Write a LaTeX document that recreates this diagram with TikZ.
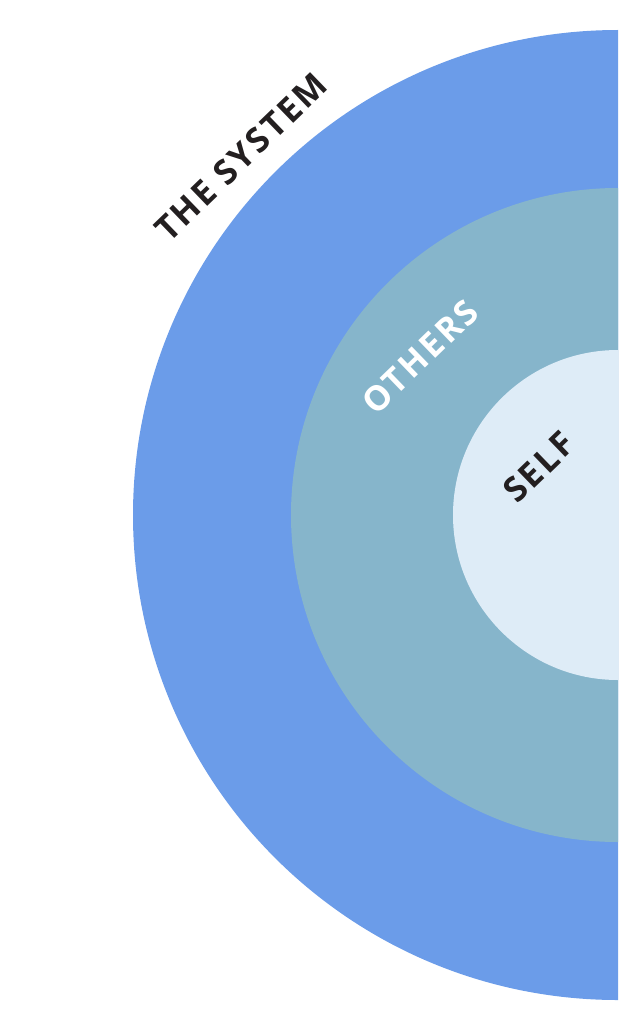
\documentclass[tikz,border=0pt]{standalone}
\usepackage{fontspec}
\newfontfamily\ringfont{Open Sans}[LetterSpace=7]
\usetikzlibrary{positioning}
\definecolor{csystem}{HTML}{6B9CE9}
\definecolor{cothers}{HTML}{86B5CB}
\definecolor{cself}{HTML}{DEECF7}
\definecolor{cink}{HTML}{231F20}
\tikzset{
  every picture/.style={x=0.02cm, y=-0.02cm},
  ring/.style={font=\ringfont\bfseries\fontsize{19.5}{22}\selectfont, rotate=44, inner sep=0pt},
}

\begin{document}
\begin{tikzpicture}
  \useasboundingbox (0,0) rectangle (621,1024);
  \coordinate (c) at (618,515);
  % half discs, cut on the right
  \begin{scope}
    \clip (0,0) rectangle (618,1024);
    \fill[csystem] (c) circle[radius=485];
    \fill[cothers] (c) circle[radius=327];
    \fill[cself] (c) circle[radius=165];
  \end{scope}
  % labels
  \node[ring, text=cink] (system) at (241,157) {THE SYSTEM};
  \node[ring, text=white] (others) at (420,357) {OTHERS};
  \node[ring, text=cink] (self) at (539,467) {SELF};
\end{tikzpicture}
\end{document}
